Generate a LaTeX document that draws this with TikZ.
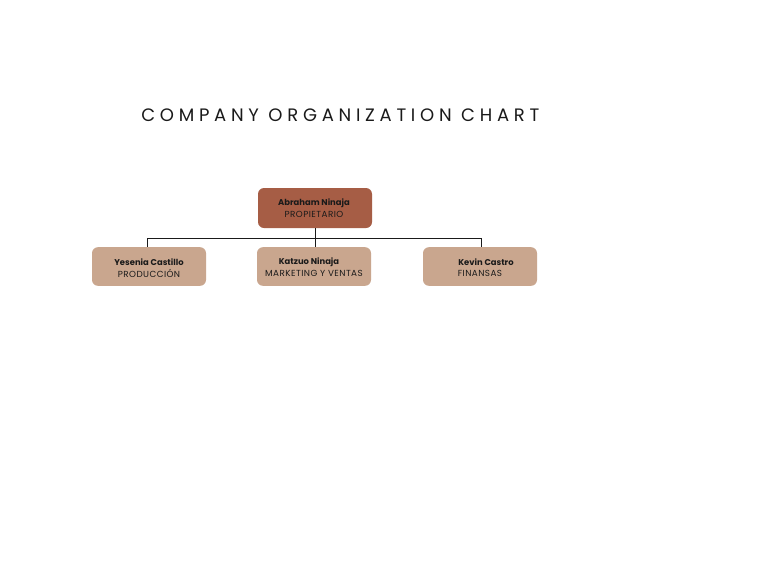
\documentclass[tikz,border=0pt]{standalone}
\usepackage{fontspec}
\setmainfont{Poppins}
\newfontfamily\titlefont[LetterSpace=26.3]{Poppins}
\newfontfamily\rolefont[LetterSpace=5]{Poppins}
\definecolor{boss}{HTML}{A65D45}
\definecolor{staff}{HTML}{C9A68E}
\definecolor{ink}{HTML}{1A1A1A}

\begin{document}
\begin{tikzpicture}[x=0.75pt,y=-0.75pt,
    bossbox/.style={fill=boss,rounded corners=4.5pt,minimum width=85.5pt,minimum height=30pt,inner sep=0pt},
    staffbox/.style={fill=staff,rounded corners=4.5pt,minimum width=85.5pt,minimum height=29pt,inner sep=0pt},
    who/.style={font=\fontsize{6.3}{7}\selectfont\bfseries,text=ink,inner sep=0pt},
    role/.style={font=\rolefont\fontsize{6.6}{7}\selectfont,text=ink,inner sep=0pt},
    link/.style={draw=ink,line width=0.6pt}]
    \useasboundingbox[fill=white] (0,0) rectangle (768,576);

    % draw title
    \node[anchor=base west,inner sep=0pt,text=ink,font=\titlefont\fontsize{13.5}{16}\selectfont] (title) at (141,121) {COMPANY ORGANIZATION CHART};

    % draw boxes
    \node[bossbox] (owner) at (315,208) {};
    \node[staffbox] (prod) at (149,266.5) {};
    \node[staffbox] (mkt) at (314,266.5) {};
    \node[staffbox] (fin) at (480,266.5) {};

    % draw names and roles
    \node[who] (ownername) at (314,203.5) {Abraham Ninaja};
    \node[role] (ownerrole) at (314,214.5) {PROPIETARIO};
    \node[who] (prodname) at (149,262.5) {Yesenia Castillo};
    \node[role] (prodrole) at (149,273.5) {PRODUCCIÓN};
    \node[who] (mktname) at (309,262.5) {Katzuo Ninaja};
    \node[role] (mktrole) at (314,273.5) {MARKETING Y VENTAS};
    \node[who] (finname) at (486,262.5) {Kevin Castro};
    \node[role] (finrole) at (480,273.5) {FINANSAS};

    % draw connectors
    \coordinate (bus) at (315,238.5);
    \draw[link] (owner.south) -- (bus);
    \draw[link] (prod.north -| 147,0) |- (bus) -| (fin.north -| 481,0);
    \draw[link] (bus) -- (bus |- mkt.north);
  \end{tikzpicture}
\end{document}
